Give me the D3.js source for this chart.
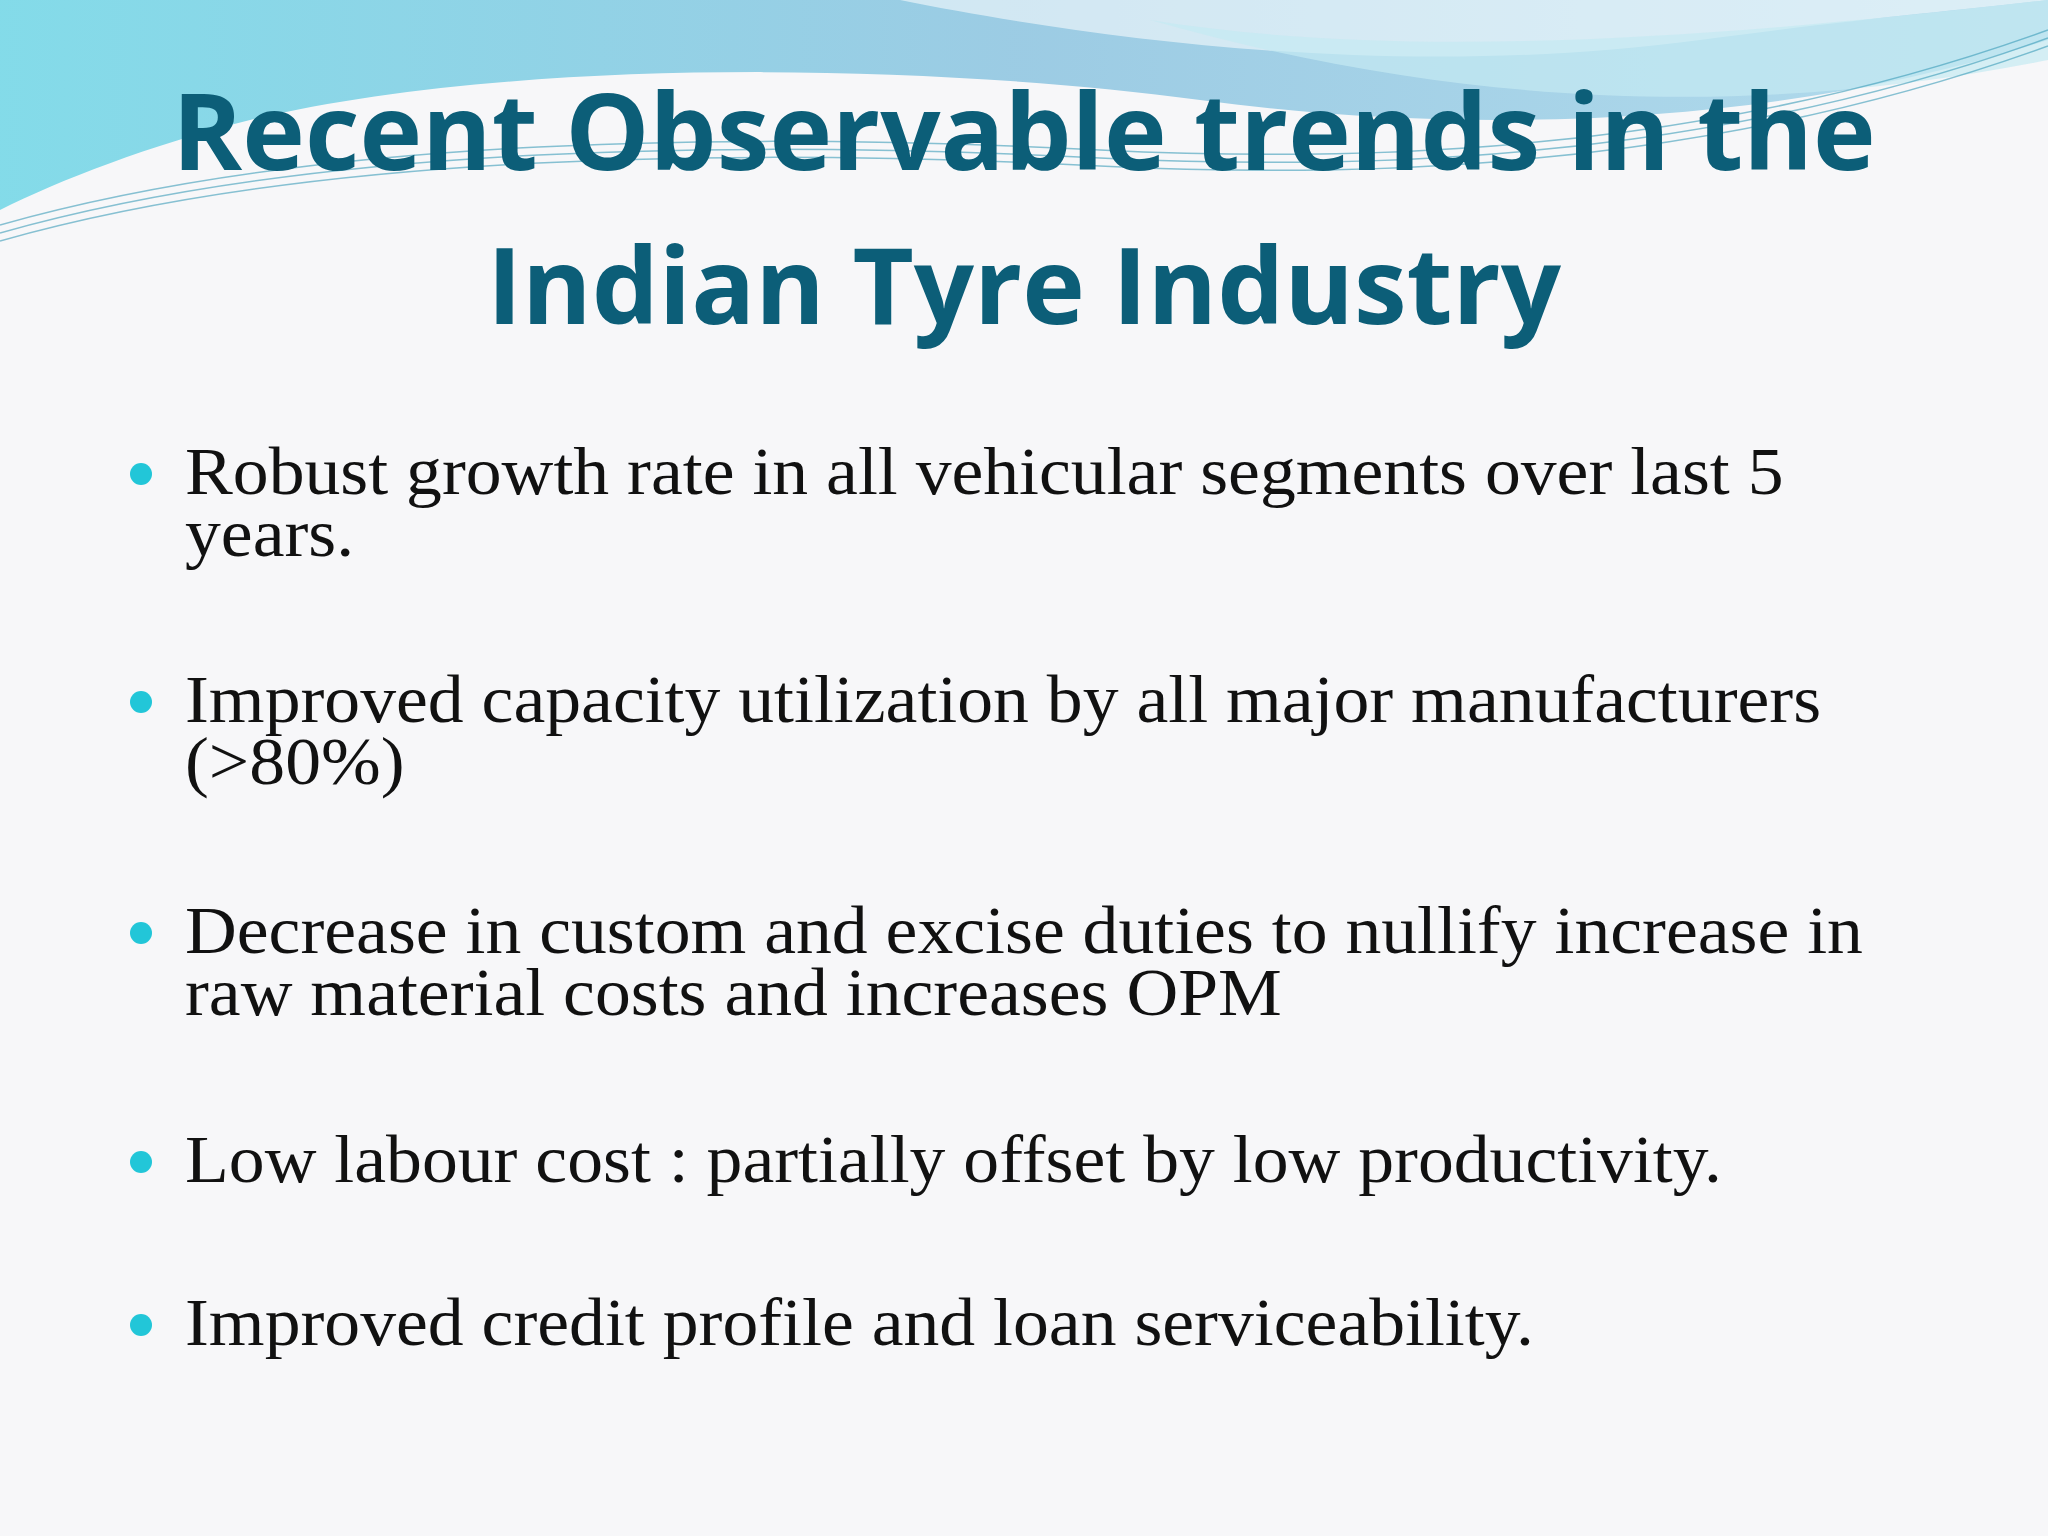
<!DOCTYPE html>
<html><head><meta charset="utf-8">
<script src="https://cdn.jsdelivr.net/npm/d3@7"></script>
<style>body{margin:0;background:#f7f7f9;}svg{display:block}</style>
</head><body>
<script>
// slide content
var titleLines = ["Recent Observable trends in the", "Indian Tyre Industry"];
var bulletLines = [
  ["Robust growth rate in all vehicular segments over last 5", "years."],
  ["Improved capacity utilization by all major manufacturers", "(>80%)"],
  ["Decrease in custom and excise duties to nullify increase in", "raw material costs and increases OPM"],
  ["Low labour cost : partially offset by low productivity."],
  ["Improved credit profile and loan serviceability."]
];
var rowY = [494, 722, 953, 1182, 1345];

var W = 2048, H = 1536;
var svg = d3.select("body").append("svg").attr("width", W).attr("height", H);
var defs = svg.append("defs");
var g1 = defs.append("linearGradient").attr("id", "wave").attr("x1", 0).attr("x2", 1);
g1.append("stop").attr("offset", 0).attr("stop-color", "#6fd6e6");
g1.append("stop").attr("offset", 0.5).attr("stop-color", "#8cc4e0");
g1.append("stop").attr("offset", 1).attr("stop-color", "#a6d6ea");

svg.append("rect").attr("width", W).attr("height", H).attr("fill", "#f7f7f9");

// top swoosh
svg.append("path")
  .attr("d", "M0,0 L2048,0 L2048,40 C1800,120 1500,140 1200,100 C900,60 500,60 250,120 C150,145 60,180 0,210 Z")
  .attr("fill", "url(#wave)").attr("opacity", 0.85);
svg.append("path")
  .attr("d", "M900,0 C1100,40 1400,80 1700,40 C1850,20 1960,10 2048,0 Z")
  .attr("fill", "#ffffff").attr("opacity", 0.55);
svg.append("path")
  .attr("d", "M1150,20 C1400,60 1700,40 2048,0 L2048,60 C1800,110 1500,120 1150,20 Z")
  .attr("fill", "#c4eaf2").attr("opacity", 0.7);
[0, 8, 16].forEach(function(o) {
  svg.append("path")
    .attr("d", "M0," + (225 + o) + " C300," + (140 + o) + " 700," + (130 + o) + " 1100," + (150 + o) + " C1500," + (170 + o) + " 1800," + (120 + o) + " 2048," + (30 + o))
    .attr("fill", "none").attr("stroke", "#3a9bb8").attr("stroke-width", 1.5).attr("opacity", 0.6);
});

// title
var ty = d3.scaleLinear().domain([0, 1]).range([170, 324]);
svg.selectAll("text.title").data(titleLines).enter().append("text")
  .attr("class", "title")
  .attr("x", W / 2).attr("y", function(d, i) { return ty(i); })
  .attr("text-anchor", "middle")
  .attr("font-family", "'Open Sans', Lato, sans-serif").attr("font-weight", 700)
  .attr("font-size", 106).attr("fill", "#0c5e78")
  .text(function(d) { return d; });

// bullets
var lineH = 62;
var grp = svg.selectAll("g.bullet").data(bulletLines).enter().append("g").attr("class", "bullet")
  .attr("transform", function(d, i) { return "translate(0," + rowY[i] + ")"; });
grp.append("circle").attr("cx", 141).attr("cy", -20).attr("r", 11).attr("fill", "#22c6d8");
grp.selectAll("text").data(function(d) { return d; }).enter().append("text")
  .attr("transform", function(d, j) { return "translate(185," + (j * lineH) + ") scale(1.07,1)"; })
  .attr("font-family", "'Liberation Serif', 'DejaVu Serif', serif")
  .attr("font-size", 67).attr("fill", "#111")
  .text(function(d) { return d; });
</script>
</body></html>
